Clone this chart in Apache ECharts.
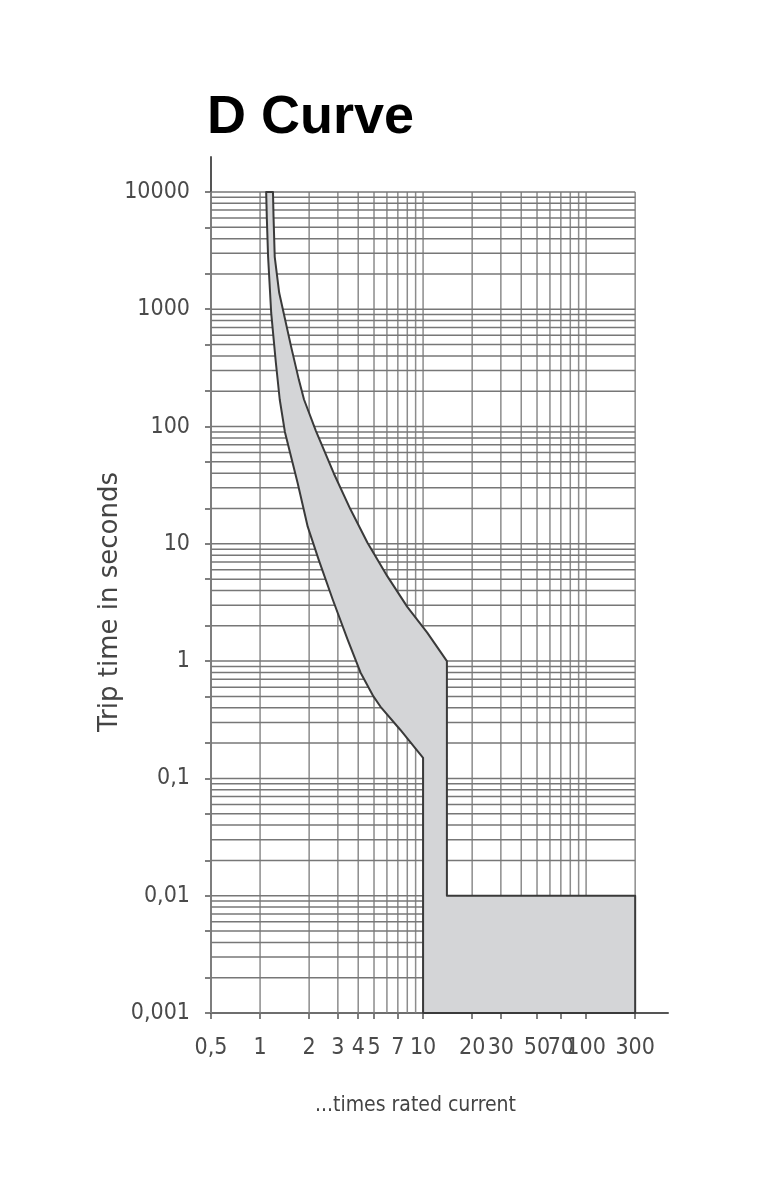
<!DOCTYPE html>
<html>
<head>
<meta charset="utf-8">
<script src="https://cdn.jsdelivr.net/npm/echarts@6/dist/echarts.min.js"></script>
<style>
  html, body { margin: 0; padding: 0; background: #ffffff; }
  #chart { width: 760px; height: 1191px; }
</style>
</head>
<body>
<div id="chart"></div>
<script>
// ---- data ----
const chartTitle = 'D Curve';
const xAxisTitle = '...times rated current';
const yAxisTitle = 'Trip time in seconds';

// x tick values (multiples of rated current) and their printed labels
const xTickValues = [0.5, 1, 2, 3, 4, 5, 7, 10, 20, 30, 50, 70, 100, 200];
const xTickLabels = ['0,5', '1', '2', '3', '4', '5', '7', '10', '20', '30', '50', '70', '100', '300'];

// y label values (seconds) and printed labels
const yLabelValues = [0.001, 0.01, 0.1, 1, 10, 100, 1000, 10000];
const yLabelTexts = ['0,001', '0,01', '0,1', '1', '10', '100', '1000', '10000'];
const yTickValues = [0.001, 0.002, 0.005, 0.01, 0.02, 0.05, 0.1, 0.2, 0.5, 1, 2, 5, 10, 20, 50, 100, 200, 500, 1000, 2000, 5000, 10000];

// grid lines
const vGridValues = [0.5, 1, 2, 3, 4, 5, 6, 7, 8, 9, 10, 20, 30, 40, 50, 60, 70, 80, 90, 100, 200];
const hGridMultipliers = [1, 2, 3, 4, 5, 6, 7, 8, 9];
const hGridDecades = [0.001, 0.01, 0.1, 1, 10, 100, 1000];
const gridXRange = [0.5, 200];
const gridYRange = [0.001, 10000];

// lower (left) boundary of the tripping band
const leftCurveX = [1.09, 1.10, 1.12, 1.17, 1.25, 1.32, 1.42, 1.70, 1.96, 2.29, 2.79, 3.44, 4.13, 4.96, 5.47, 7.24, 10.0, 10.0];
const leftCurveY = [10000, 6000, 2800, 930, 350, 170, 90, 33, 14, 7.3, 3.35, 1.53, 0.80, 0.50, 0.41, 0.26, 0.15, 0.001];

// upper (right) boundary of the tripping band
const rightCurveX = [1.20, 1.21, 1.23, 1.31, 1.55, 1.73, 1.86, 2.20, 2.83, 3.59, 4.56, 6.03, 8.0, 10.6, 14.0, 14.0, 200, 200];
const rightCurveY = [10000, 6000, 2800, 1380, 480, 250, 170, 92, 40, 19.6, 10.2, 5.3, 2.9, 1.75, 1.0, 0.01, 0.01, 0.001];

// axis extents (axis lines run a little past the grid in the reference)
const xMin = 0.5, xMax = 318;
const yMin = 0.001, yMax = 19860;

// ---- build helper tables ----
const gridLineData = [];
vGridValues.forEach(v => {
  gridLineData.push([v, gridYRange[0], v, gridYRange[1], 0]);
});
hGridDecades.forEach(d => {
  hGridMultipliers.forEach(m => {
    const y = +(d * m).toPrecision(6);
    gridLineData.push([gridXRange[0], y, gridXRange[1], y, 1]);
  });
});
gridLineData.push([gridXRange[0], gridYRange[1], gridXRange[1], gridYRange[1], 1]);

const polygonData = [];
for (let i = 0; i < leftCurveX.length; i++) polygonData.push([leftCurveX[i], leftCurveY[i]]);
for (let i = rightCurveX.length - 1; i >= 0; i--) polygonData.push([rightCurveX[i], rightCurveY[i]]);

function nearestLabel(v, vals, texts) {
  const lv = Math.log10(v);
  for (let i = 0; i < vals.length; i++) {
    if (Math.abs(Math.log10(vals[i]) - lv) < 1e-4) return texts[i];
  }
  return '';
}

const labelFont = "'Liberation Sans Narrow', 'Arial Narrow', 'DejaVu Sans Condensed', sans-serif";

const chart = echarts.init(document.getElementById('chart'), null, { renderer: 'canvas' });
chart.setOption({
  animation: false,
  backgroundColor: '#ffffff',
  title: {
    text: chartTitle,
    left: 207,
    top: 91,
    padding: 0,
    textStyle: { fontFamily: "'Liberation Sans', Arial, sans-serif", fontWeight: 'bold', fontSize: 54, color: '#000000' }
  },
  grid: { left: 211, right: 92, top: 157, bottom: 178, containLabel: false },
  xAxis: {
    type: 'log',
    logBase: 10,
    min: xMin,
    max: xMax,
    name: xAxisTitle,
    nameLocation: 'middle',
    nameGap: 82,
    nameTextStyle: { fontFamily: labelFont, fontSize: 21, color: '#444', padding: [0, 48, 0, 0] },
    axisLine: { show: true, lineStyle: { color: '#555', width: 2 } },
    axisTick: { show: true, customValues: xTickValues, length: 6, lineStyle: { color: '#555', width: 1.5 } },
    axisLabel: {
      customValues: xTickValues,
      margin: 24,
      fontFamily: labelFont,
      fontSize: 23,
      color: '#4a4a4a',
      formatter: v => nearestLabel(v, xTickValues, xTickLabels)
    },
    splitLine: { show: false },
    minorTick: { show: false }
  },
  yAxis: {
    type: 'log',
    logBase: 10,
    min: yMin,
    max: yMax,
    name: yAxisTitle,
    nameLocation: 'middle',
    nameRotate: 90,
    nameGap: 88,
    nameMoveOverlap: false,
    nameTextStyle: { fontFamily: "'DejaVu Sans', sans-serif", fontSize: 26, color: '#444', padding: [0, 34, 0, 0] },
    axisLine: { show: true, lineStyle: { color: '#555', width: 2 } },
    axisTick: { show: true, customValues: yTickValues, length: 6, lineStyle: { color: '#555', width: 1.5 } },
    axisLabel: {
      customValues: yLabelValues,
      margin: 21,
      fontFamily: labelFont,
      fontSize: 23,
      color: '#4a4a4a',
      formatter: v => nearestLabel(v, yLabelValues, yLabelTexts)
    },
    splitLine: { show: false }
  },
  series: [
    {
      type: 'custom',
      name: 'grid',
      silent: true,
      clip: false,
      z: 1,
      encode: { x: [0, 2], y: [1, 3] },
      data: gridLineData,
      renderItem: function (params, api) {
        const p1 = api.coord([api.value(0), api.value(1)]);
        const p2 = api.coord([api.value(2), api.value(3)]);
        const horizontal = api.value(4) === 1;
        return {
          type: 'line',
          shape: { x1: p1[0], y1: p1[1], x2: p2[0], y2: p2[1] },
          style: { stroke: horizontal ? '#777777' : '#8c8c8c', lineWidth: 1.5 }
        };
      }
    },
    {
      type: 'custom',
      name: 'D curve band',
      silent: true,
      clip: false,
      z: 3,
      data: polygonData,
      renderItem: function (params, api) {
        if (params.dataIndex !== 0) return null;
        const pts = polygonData.map(p => api.coord(p));
        return {
          type: 'polygon',
          shape: { points: pts, smooth: 0 },
          style: { fill: '#d4d5d7', stroke: '#3a3a3a', lineWidth: 2, lineJoin: 'round' }
        };
      }
    }
  ]
});
</script>
</body>
</html>
